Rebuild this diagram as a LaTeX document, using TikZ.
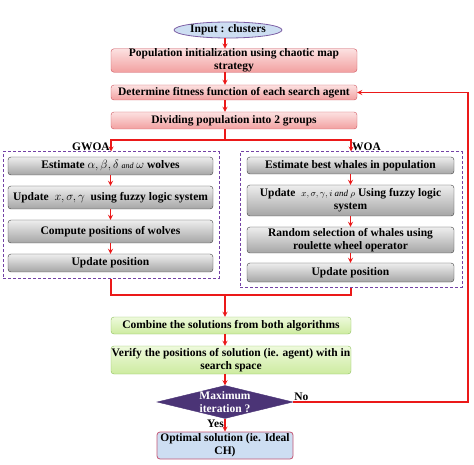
\documentclass[tikz,border=0pt]{standalone}
\usepackage{fontspec}
\setmainfont{Liberation Serif}
\usetikzlibrary{shapes.geometric}
\definecolor{flowred}{RGB}{235,25,25}
\definecolor{pinkline}{RGB}{205,85,95}
\definecolor{pinktop}{RGB}{252,225,225}
\definecolor{pinkbot}{RGB}{242,160,160}
\definecolor{grayline}{RGB}{60,60,60}
\definecolor{graytop}{RGB}{238,238,238}
\definecolor{graybot}{RGB}{165,165,165}
\definecolor{greenline}{RGB}{140,190,90}
\definecolor{greentop}{RGB}{238,250,220}
\definecolor{greenbot}{RGB}{205,235,160}
\definecolor{groupline}{RGB}{115,65,165}
\definecolor{bluefill}{RGB}{205,222,242}
\definecolor{inputline}{RGB}{125,95,165}
\definecolor{optline}{RGB}{195,85,115}
\definecolor{decfill}{RGB}{75,52,118}

\begin{document}
\begin{tikzpicture}[x=1pt,y=-1pt,font=\bfseries\fontsize{11.5}{13}\selectfont,
	pinkbox/.style={draw=pinkline,rounded corners=3pt,top color=pinktop,bottom color=pinkbot,minimum width=246pt,inner sep=0pt,align=center},
	graybox/.style={draw=grayline,rounded corners=3pt,top color=graytop,bottom color=graybot,inner sep=0pt,align=center},
	greenbox/.style={draw=greenline,rounded corners=3pt,top color=greentop,bottom color=greenbot,minimum width=240pt,inner sep=0pt,align=center},
	groupbox/.style={draw=groupline,line width=1pt,dash pattern=on 3pt off 2pt,inner sep=0pt},
	flow/.style={draw=flowred,line width=1.2pt},
	arr/.style={flow,-stealth}]
	\useasboundingbox (0,0) rectangle (474,465);
	\coordinate (axis) at (225,0);
	\node[ellipse,draw=inputline,fill=bluefill,line width=0.8pt,minimum width=108pt,minimum height=16pt,inner sep=0pt] (input) at (228,30) {Input : clusters};
	\node[pinkbox,minimum height=23pt] (init) at (234,60.5) {Population initialization using chaotic map\\strategy};
	\node[pinkbox,minimum height=15pt] (fit) at (234,92.5) {Determine fitness function of each search agent};
	\node[pinkbox,minimum height=17pt] (divide) at (234,120.5) {Dividing population into 2 groups};
	\draw[arr] (axis |- input.south) -- (axis |- init.north);
	\draw[arr] (axis |- init.south) -- (axis |- fit.north);
	\draw[arr] (axis |- fit.south) -- (axis |- divide.north);

	\node[groupbox,minimum width=216pt,minimum height=126pt] (gwoa) at (111,215) {};
	\node[groupbox,minimum width=222pt,minimum height=135pt] (woa) at (351,219.5) {};
	\node[anchor=south east,inner sep=1pt] (gwoalab) at (gwoa.north) {GWOA};
	\node[anchor=south west,inner sep=1pt] (woalab) at (woa.north) {WOA};
	\coordinate (split) at (225,140);
	\draw[flow] (axis |- divide.south) -- (split);
	\draw[arr] (split) -| (gwoa.north);
	\draw[arr] (split) -| (woa.north);

	\node[graybox,minimum width=205pt,minimum height=18pt] (est1) at (110.5,166) {Estimate {\mdseries$\alpha,\beta,\delta$ {\itshape\footnotesize and} $\omega$} wolves};
	\node[graybox,minimum width=205pt,minimum height=23pt] (upd1) at (110.5,197.5) {Update\ \ {\mdseries$x,\sigma,\gamma$}\ \ using fuzzy logic system};
	\node[graybox,minimum width=205pt,minimum height=23pt] (comp1) at (110.5,231.5) {Compute positions of wolves};
	\node[graybox,minimum width=205pt,minimum height=18pt] (pos1) at (110.5,263) {Update position};
	\draw[arr] (est1) -- (upd1);
	\draw[arr] (upd1) -- (comp1);
	\draw[arr] (comp1) -- (pos1);

	\node[graybox,minimum width=207pt,minimum height=17pt] (est2) at (350.5,165.5) {Estimate best whales in population};
	\node[graybox,minimum width=207pt,minimum height=31pt] (upd2) at (350.5,200.5) {Update\ \ {\mdseries\small$x,\sigma,\gamma,i$ {\itshape and} $\rho$} Using\ fuzzy logic\\system};
	\node[graybox,minimum width=207pt,minimum height=26pt] (rand2) at (350.5,240) {Random selection of whales using\\roulette wheel operator};
	\node[graybox,minimum width=207pt,minimum height=19pt] (pos2) at (350.5,272.5) {Update position};
	\draw[arr] (est2) -- (upd2);
	\draw[arr] (upd2) -- (rand2);
	\draw[arr] (rand2) -- (pos2);

	\coordinate (merge) at (225,295);
	\draw[flow] (gwoa.south) |- (merge) -| (woa.south);
	\node[greenbox,minimum height=17pt] (comb) at (231,325.5) {Combine the solutions from both algorithms};
	\node[greenbox,minimum height=28pt] (verif) at (231,360) {Verify the positions of solution (ie. agent) with in\\search space};
	\draw[arr] (merge) -- (axis |- comb.north);
	\draw[arr] (axis |- comb.south) -- (axis |- verif.north);

	\node[diamond,draw=decfill,fill=decfill,minimum width=136pt,minimum height=33pt,inner sep=0pt,
		label={[text=white,align=center,inner sep=0pt]center:Maximum\\iteration ?}] (dec) at (225,402) {};
	\node[draw=optline,fill=bluefill,rounded corners=3pt,line width=0.8pt,minimum width=136pt,minimum height=27pt,inner sep=0pt,align=center] (opt) at (225,445.5) {Optimal solution (ie. Ideal\\CH)};
	\draw[arr] (axis |- verif.south) -- (dec.north);
	\draw[arr] (dec.south) -- (opt.north);
	\node[anchor=south west,inner sep=1pt] (nolab) at (dec.east) {No};
	\node[anchor=north east,inner sep=1pt] (yeslab) at (dec.south) {Yes};
	\coordinate (back) at (468,92.5);
	\draw[arr] (dec.east) -| (back) -- (fit.east);
\end{tikzpicture}
\end{document}
